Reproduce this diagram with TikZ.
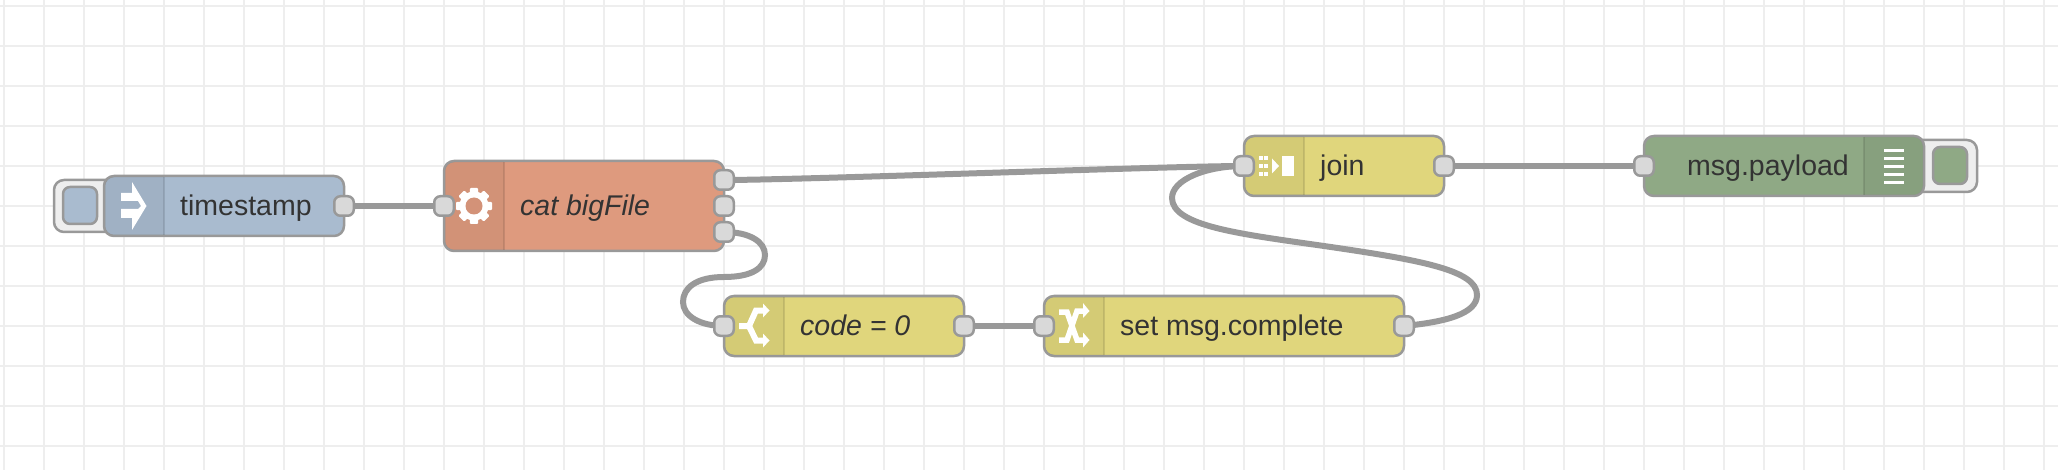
\documentclass[tikz,border=0pt]{standalone}
\usepackage{fontspec}
\setmainfont{Liberation Sans}
\pgfdeclarelayer{gridlayer}
\pgfdeclarelayer{wirelayer}
\pgfsetlayers{gridlayer,wirelayer,main}
\definecolor{gridc}{HTML}{EEEEEE}
\definecolor{edgec}{HTML}{999999}
\definecolor{portc}{HTML}{D9D9D9}
\definecolor{inkc}{HTML}{333333}
\definecolor{injectc}{HTML}{A9BBCF}
\definecolor{execc}{HTML}{DE9A7E}
\definecolor{yellowc}{HTML}{E0D67C}
\definecolor{debugc}{HTML}{8FA985}
\tikzset{
  flownode/.style={draw=edgec,line width=2.5pt,rounded corners=10pt,anchor=north west,inner sep=0pt,outer sep=0pt,minimum height=60pt},
  flowport/.style={draw=edgec,fill=portc,line width=2.5pt,rounded corners=6pt,minimum width=19.5pt,minimum height=19.5pt,inner sep=0pt,outer sep=0pt},
  flowwire/.style={draw=edgec,line width=6pt},
  flowlabel/.style={anchor=base west,inner sep=0pt,text=inkc,font=\fontsize{28.5}{34}\selectfont},
  tabbtn/.style={draw=edgec,fill=gridc,line width=2.5pt,anchor=north west,inner sep=0pt,outer sep=0pt,rounded corners=10pt},
  tabinner/.style={draw=edgec,line width=2.5pt,anchor=north west,inner sep=0pt,outer sep=0pt,rounded corners=7pt},
  icontint/.style={fill=black,fill opacity=.05},
  iconline/.style={draw=black,draw opacity=.1,line width=2pt},
  iconstroke/.style={draw=white,line width=6pt},
}
% left icon panel: left x, top y
\newcommand{\lefticonpanel}[2]{%
  \fill[icontint] (#1+60,#2+1) [rounded corners=9pt] -- (#1+1,#2+1) -- (#1+1,#2+59) [sharp corners] -- (#1+60,#2+59) -- cycle;
  \draw[iconline] (#1+60,#2+1) -- (#1+60,#2+59);
}
\begin{document}
\begin{tikzpicture}[x=1pt,y=-1pt]
\useasboundingbox (0,0) rectangle (2058,470);
\begin{pgfonlayer}{gridlayer}
  \fill[white] (0,0) rectangle (2058,470);
  \foreach \gx in {0,...,51} \draw[gridc,line width=2pt] ({4+40*\gx},0) -- ({4+40*\gx},470);
  \foreach \gy in {0,...,11} \draw[gridc,line width=2pt] (0,{6+40*\gy}) -- (2058,{6+40*\gy});
\end{pgfonlayer}

% tab buttons
\node[tabbtn,minimum width=80pt,minimum height=52pt] (injectbtn) at (54,180) {};
\node[tabinner,fill=injectc,minimum width=34pt,minimum height=37pt] (injectin) at (63,187) {};
\node[tabbtn,minimum width=80pt,minimum height=52pt] (debugbtn) at (1897,140) {};
\node[tabinner,fill=debugc,minimum width=34pt,minimum height=37pt] (debugin) at (1933,147) {};

% node bodies
\node[flownode,fill=injectc,minimum width=240pt] (timestamp) at (104,176) {};
\node[flownode,fill=execc,minimum width=280pt,minimum height=90pt] (cat) at (444,161) {};
\node[flownode,fill=yellowc,minimum width=240pt] (code) at (724,296) {};
\node[flownode,fill=yellowc,minimum width=360pt] (setmsg) at (1044,296) {};
\node[flownode,fill=yellowc,minimum width=200pt] (join) at (1244,136) {};
\node[flownode,fill=debugc,minimum width=280pt] (debug) at (1644,136) {};

% icon panels
\lefticonpanel{104}{176}
\fill[icontint] (444+60,162) [rounded corners=9pt] -- (445,162) -- (445,250) [sharp corners] -- (444+60,250) -- cycle;
\draw[iconline] (504,162) -- (504,250);
\lefticonpanel{724}{296}
\lefticonpanel{1044}{296}
\lefticonpanel{1244}{136}
\fill[icontint] (1864,137) [rounded corners=9pt] -- (1923,137) -- (1923,195) [sharp corners] -- (1864,195) -- cycle;
\draw[iconline] (1864,137) -- (1864,195);

% inject icon
\begin{scope}[shift={(104,176)}]
  \fill[white] (28,6) -- (42.5,30) -- (28,54) -- (28,42) -- (17,42) -- (17,33) -- (34,33) -- (37,30) -- (34,25) -- (17,25) -- (17,17) -- (28,17) -- cycle;
\end{scope}
% gear icon
\begin{scope}[shift={(474,206)}]
  \fill[white] (0,0) circle (14.5);
  \foreach \ang in {0,45,...,315}
    \fill[white,rotate=\ang,rounded corners=1pt] (-4.5,-10) -- (-4,-18) -- (4,-18) -- (4.5,-10) -- cycle;
  \fill[execc!95!black] (0,0) circle (8.5);
\end{scope}
% switch icon
\begin{scope}[shift={(724,296)}]
  \draw[iconstroke] (15,30) -- (25,30) -- (32,14.5) -- (40,14.5);
  \draw[iconstroke] (25,30) -- (32,44.5) -- (40,44.5);
  \fill[white] (39,7.5) -- (45.5,14.5) -- (39,21.5) -- cycle;
  \fill[white] (39,37.5) -- (45.5,44.5) -- (39,51.5) -- cycle;
\end{scope}
% change icon
\begin{scope}[shift={(1044,296)}]
  \draw[iconstroke,line width=5.5pt] (15,16) -- (23,16) -- (33,44) -- (40,44);
  \draw[iconstroke,line width=5.5pt] (15,44) -- (23,44) -- (33,15) -- (40,15);
  \fill[white] (39,7) -- (45.5,15) -- (39,22) -- cycle;
  \fill[white] (39,36.5) -- (45.5,44) -- (39,51.5) -- cycle;
\end{scope}
% join icon
\begin{scope}[shift={(1244,136)}]
  \foreach \dx in {14.5,20} \foreach \dy in {20,28,36}
    \fill[white] (\dx,\dy) rectangle +(4,4);
  \fill[white] (28,22.5) -- (35,30) -- (28,37.5) -- cycle;
  \fill[white] (38,20) rectangle (50,40);
\end{scope}
% debug icon
\begin{scope}[shift={(1864,136)}]
  \foreach \dy in {13,21,29,37,45}
    \fill[white] (20,\dy) rectangle (40,\dy+3);
\end{scope}

% labels
\node[flowlabel] (ltimestamp) at (180,215.5) {timestamp};
\node[flowlabel,font=\fontsize{28.5}{34}\selectfont\itshape] (lcat) at (520,215.5) {cat bigFile};
\node[flowlabel,font=\fontsize{28.5}{34}\selectfont\itshape] (lcode) at (800,335.5) {code = 0};
\node[flowlabel] (lset) at (1120,335.5) {set msg.complete};
\node[flowlabel] (ljoin) at (1320,175.5) {join};
\node[flowlabel] (ldebug) at (1687,175.5) {msg.payload};

% ports
\node[flowport] (pt) at (344,206) {};
\node[flowport] (pci) at (444,206) {};
\node[flowport] (pc1) at (724,180) {};
\node[flowport] (pc2) at (724,206) {};
\node[flowport] (pc3) at (724,232) {};
\node[flowport] (pwi) at (724,326) {};
\node[flowport] (pwo) at (964,326) {};
\node[flowport] (psi) at (1044,326) {};
\node[flowport] (pso) at (1404,326) {};
\node[flowport] (pji) at (1244,166) {};
\node[flowport] (pjo) at (1444,166) {};
\node[flowport] (pdi) at (1644,166) {};

% wires
\begin{pgfonlayer}{wirelayer}
  \draw[flowwire] (pt.center) -- (pci.center);
  \draw[flowwire] (pc1.center) .. controls (800,180) and (1170,166) .. (pji.center);
  \draw[flowwire] (pc3.center) .. controls (750,232) and (765,242) .. (765,255)
     .. controls (765,268) and (752,277) .. (724,277)
     .. controls (696,277) and (683,288) .. (683,302)
     .. controls (683,316) and (700,326) .. (pwi.center);
  \draw[flowwire] (pwo.center) -- (psi.center);
  \draw[flowwire] (pso.center) .. controls (1445,322) and (1477,314) .. (1477,295)
     .. controls (1477,270) and (1420,260) .. (1324,246)
     .. controls (1240,234) and (1172,226) .. (1172,198)
     .. controls (1172,180) and (1205,166) .. (pji.center);
  \draw[flowwire] (pjo.center) -- (pdi.center);
\end{pgfonlayer}
\end{tikzpicture}
\end{document}
